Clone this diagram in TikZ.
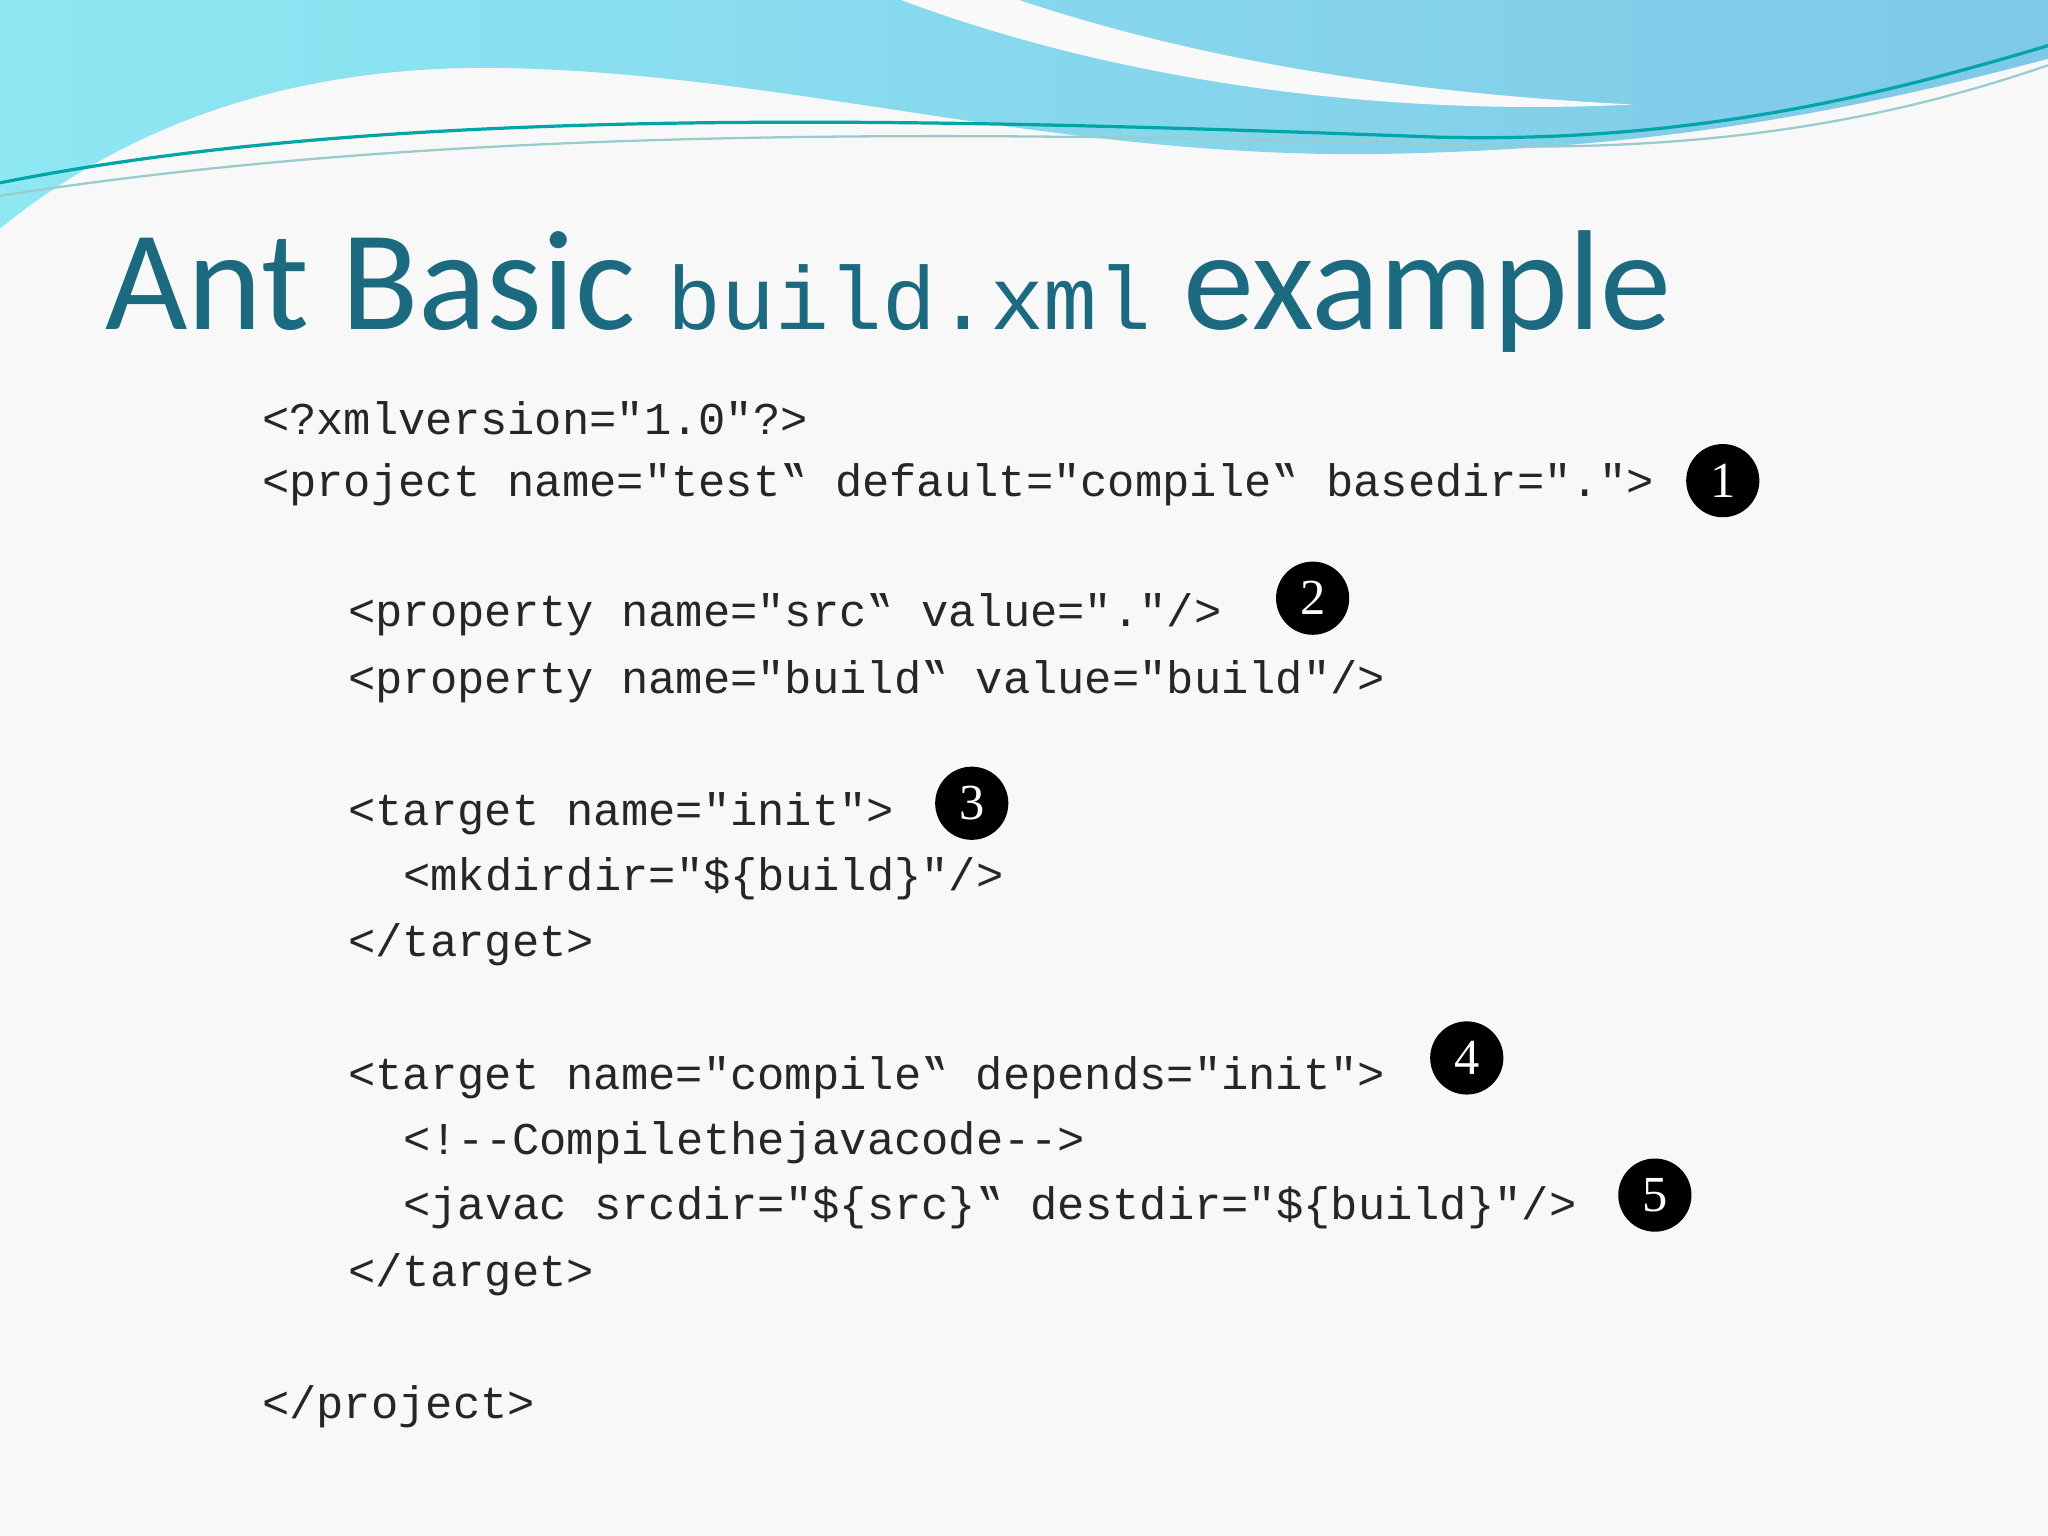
\documentclass[tikz,border=0pt]{standalone}
\usepackage{fontspec}
\setmainfont{Liberation Serif}
\newfontfamily\titlefont{Carlito}
\newfontfamily\codefont{Liberation Mono}
\usetikzlibrary{shadings}
\definecolor{titleblue}{HTML}{1B6A80}
\definecolor{bgc}{HTML}{F8F8F8}
\definecolor{waveL}{HTML}{8EE8F2}
\definecolor{waveR}{HTML}{7FC8E8}
\tikzset{
  codeline/.style={anchor=west,inner sep=0pt,font=\codefont\fontsize{9.9pt}{11pt}\selectfont,text=black!85},
  badge/.style={circle,fill=black,minimum size=0.56cm,inner sep=0pt,text=white,font=\fontsize{11pt}{11pt}\selectfont}
}
\begin{document}
\begin{tikzpicture}[x=0.01cm,y=-0.01cm]
\useasboundingbox (0,0) rectangle (1568,1176);
\fill[bgc] (0,0) rectangle (1568,1176);
% top wave
\shade[left color=waveL,right color=waveR]
  (0,0) -- (1568,0) -- (1568,45) .. controls (1400,90) and (1250,115) .. (1050,118)
  .. controls (800,120) and (600,55) .. (380,52) .. controls (200,50) and (80,110) .. (0,175) -- cycle;
\fill[bgc!80!white] (690,0) .. controls (850,60) and (1050,90) .. (1250,80)
  .. controls (1050,70) and (900,40) .. (780,0) -- cycle;
\draw[teal!70!cyan,line width=0.7pt] (0,140) .. controls (300,80) and (700,90) .. (1100,105) .. controls (1300,110) and (1450,70) .. (1568,35);
\draw[white!60!teal,line width=0.5pt] (0,150) .. controls (350,95) and (750,100) .. (1150,112) .. controls (1350,115) and (1480,80) .. (1568,50);
% title
\node[anchor=base west,inner sep=0pt,text=titleblue] (title) at (80,252)
  {\titlefont\fontsize{31pt}{31pt}\selectfont Ant Basic {\codefont\fontsize{19.5pt}{20pt}\selectfont build.xml} example};
% code
\node[codeline] (l1) at (200,320) {<?xmlversion="1.0"?>};
\node[codeline] (l2) at (200,371) {<project name="test‟ default="compile‟ basedir=".">};
\node[codeline] (l3) at (266,471) {<property name="src‟ value="."/>};
\node[codeline] (l4) at (266,522) {<property name="build‟ value="build"/>};
\node[codeline] (l5) at (266,623) {<target name="init">};
\node[codeline] (l6) at (308,673) {<mkdirdir="\$\{build\}"/>};
\node[codeline] (l7) at (266,723) {</target>};
\node[codeline] (l8) at (266,825) {<target name="compile‟ depends="init">};
\node[codeline] (l9) at (308,875) {<!--Compilethejavacode-->};
\node[codeline] (l10) at (308,925) {<javac srcdir="\$\{src\}‟ destdir="\$\{build\}"/>};
\node[codeline] (l11) at (266,976) {</target>};
\node[codeline] (l12) at (200,1077) {</project>};
% badges
\node[badge] (b1) at (1319,368) {1};
\node[badge] (b2) at (1005,458) {2};
\node[badge] (b3) at (744,615) {3};
\node[badge] (b4) at (1123,810) {4};
\node[badge] (b5) at (1267,915) {5};
\end{tikzpicture}
\end{document}
